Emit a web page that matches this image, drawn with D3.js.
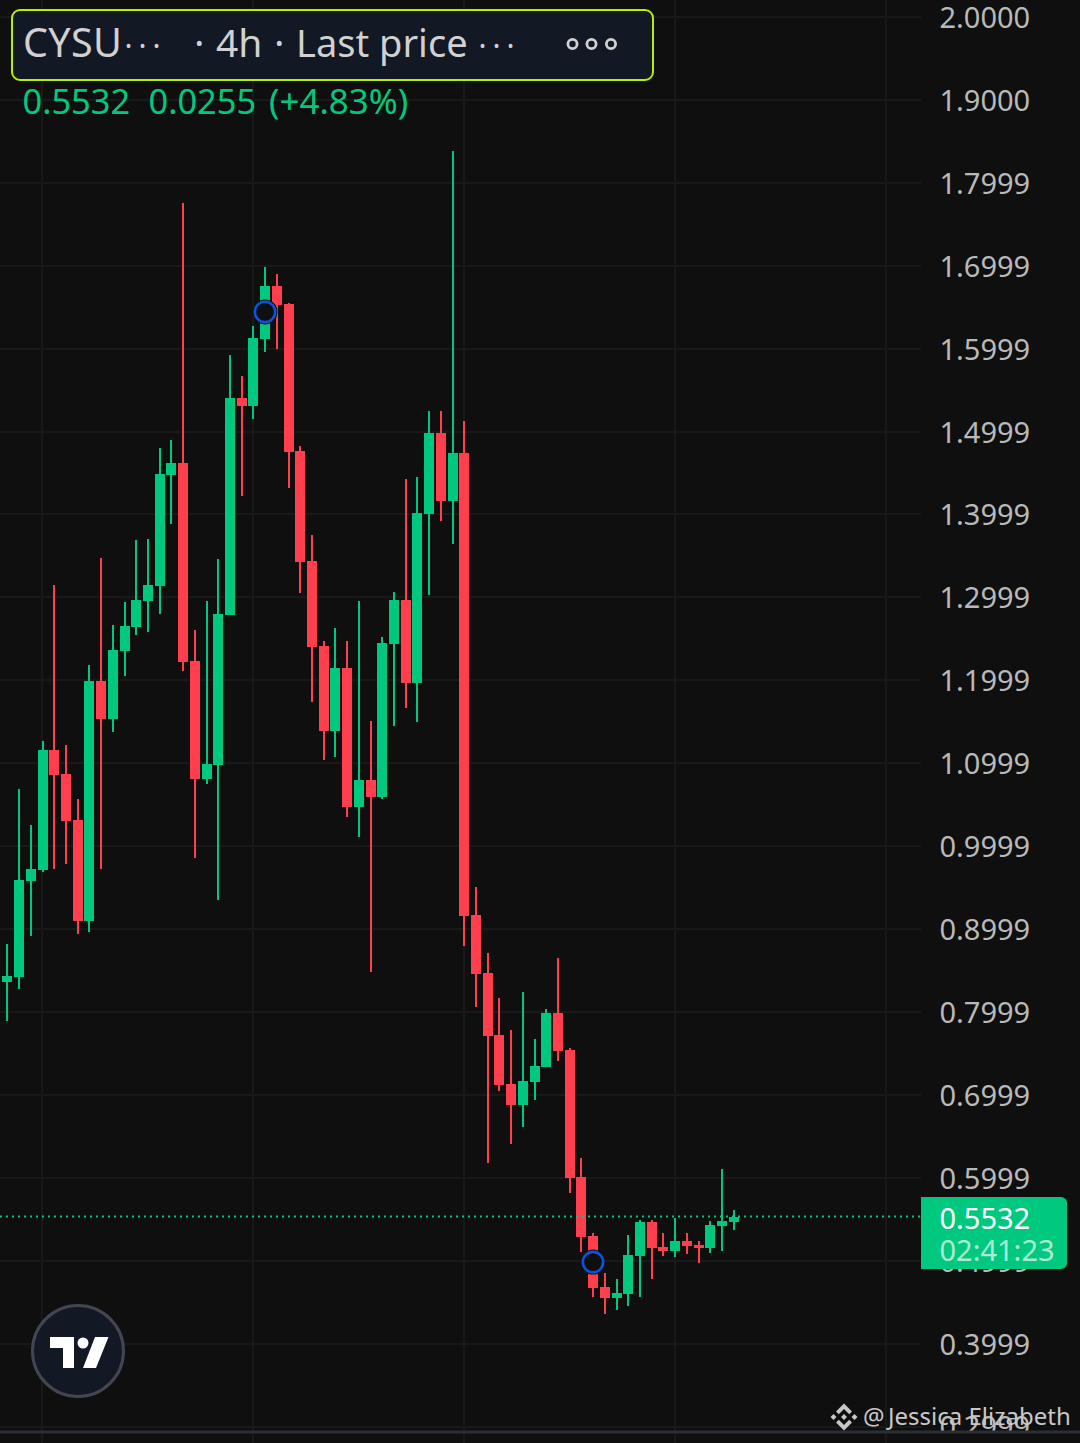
<!DOCTYPE html>
<html>
<head>
<meta charset="utf-8">
<script src="https://cdn.jsdelivr.net/npm/d3@7/dist/d3.min.js"></script>
<style>
    html, body { margin: 0; padding: 0; background: #0f0f0f; }
    svg { display: block; }
    text { font-family: "Noto Sans", sans-serif; }
</style>
</head>
<body>
<div id="chart"></div>
<script>
// values, one entry per 4h candle
var opens = [0.8361, 0.8421, 0.9579, 0.9712, 1.1159, 1.0870, 1.0315, 0.9097, 1.1992, 1.1533,
    1.2353, 1.2643, 1.2957, 1.3138, 1.4477, 1.4621, 1.2233, 1.0810, 1.0978, 1.2788,
    1.5405, 1.5309, 1.6117, 1.6756, 1.6539, 1.4766, 1.3439, 1.2414, 1.1388, 1.2148,
    1.0472, 1.0797, 1.0592, 1.2438, 1.2969, 1.1968, 1.4006, 1.4983, 1.4163, 1.4742,
    0.9169, 0.8469, 0.7721, 0.7130, 0.6877, 0.7155, 0.7335, 0.7987, 0.7540, 0.6008,
    0.5297, 0.4682, 0.4549, 0.4597, 0.5056, 0.5466, 0.5164, 0.5116, 0.5236, 0.5188,
    0.5152, 0.5417, 0.5466];
var highs = [0.8819, 1.0689, 1.0255, 1.1268, 1.3150, 1.1220, 1.0568, 1.2185, 1.3475, 1.2667,
    1.2945, 1.3692, 1.3704, 1.4802, 1.4899, 1.7758, 1.2607, 1.2957, 1.3463, 1.5924,
    1.5671, 1.6274, 1.6986, 1.6901, 1.6551, 1.4826, 1.3753, 1.2474, 1.2631, 1.2474,
    1.2957, 1.1509, 1.2522, 1.3065, 1.4428, 1.4452, 1.5249, 1.5249, 1.8385, 1.5128,
    0.9507, 0.8711, 0.8168, 0.7782, 0.8240, 0.7673, 0.8035, 0.8650, 0.7565, 0.6238,
    0.5333, 0.4851, 0.4778, 0.5309, 0.5490, 0.5490, 0.5333, 0.5514, 0.5333, 0.5236,
    0.5478, 0.6105, 0.5610];
var lows = [0.7890, 0.8276, 0.8916, 0.9688, 0.9724, 0.9784, 0.8940, 0.8964, 0.9724, 1.1376,
    1.2052, 1.2546, 1.2583, 1.2800, 1.3885, 1.2112, 0.9857, 1.0749, 0.9350, 1.2788,
    1.4223, 1.5152, 1.5960, 1.5996, 1.4320, 1.3053, 1.1738, 1.1039, 1.1075, 1.0351,
    1.0110, 0.8481, 1.0568, 1.1449, 1.1666, 1.1497, 1.3029, 1.3922, 1.3644, 0.8795,
    0.8059, 0.6177, 0.7046, 0.6407, 0.6612, 0.6937, 0.7335, 0.7408, 0.5816, 0.5104,
    0.4561, 0.4356, 0.4404, 0.4452, 0.4561, 0.4778, 0.5056, 0.5044, 0.5080, 0.4971,
    0.5092, 0.5116, 0.5369];
var closes = [0.8433, 0.9591, 0.9724, 1.1159, 1.0858, 1.0303, 0.9097, 1.1992, 1.1533, 1.2366,
    1.2655, 1.2969, 1.3150, 1.4489, 1.4621, 1.2221, 1.0810, 1.0990, 1.2800, 1.5405,
    1.5309, 1.6129, 1.6756, 1.6527, 1.4754, 1.3427, 1.2402, 1.1388, 1.2148, 1.0472,
    1.0797, 1.0592, 1.2450, 1.2969, 1.1968, 1.4018, 1.4983, 1.4163, 1.4742, 0.9157,
    0.8457, 0.7709, 0.7118, 0.6877, 0.7167, 0.7348, 0.7987, 0.7528, 0.5996, 0.5285,
    0.4670, 0.4549, 0.4609, 0.5068, 0.5466, 0.5152, 0.5116, 0.5236, 0.5176, 0.5152,
    0.5429, 0.5478, 0.5532];

var tickValues = [2.0, 1.9, 1.8, 1.7, 1.6, 1.5, 1.4, 1.3, 1.2, 1.1, 1.0, 0.9, 0.8, 0.7, 0.6, 0.5, 0.4, 0.3];
var tickLabels = ["2.0000", "1.9000", "1.7999", "1.6999", "1.5999", "1.4999", "1.3999", "1.2999", "1.1999",
    "1.0999", "0.9999", "0.8999", "0.7999", "0.6999", "0.5999", "0.4999", "0.3999", "0.2999"];
var timeGridIndex = [3, 21, 39, 57, 75]; // vertical grid falls on these candle slots
var markerIndex = [22, 50];
var markerPrice = [1.6443, 0.4983];
var lastPrice = 0.5532;

var width = 1080, height = 1443, plotRight = 921, bottomY = 1432;
var upColor = "#00c97f", downColor = "#ff3f4e", gridColor = "#191919", labelColor = "#b9b9b9";

var svg = d3.select("#chart").append("svg")
    .attr("width", width)
    .attr("height", height);

svg.append("rect").attr("width", width).attr("height", height).attr("fill", "#0f0f0f");

var x = d3.scaleLinear().domain([0, 62]).range([7.45, 733.78]);
var y = d3.scaleLinear().domain([2.0, 0.3]).range([17, 1426.5]);

svg.append("defs").append("clipPath").attr("id", "axisClip")
    .append("rect").attr("x", 921).attr("y", 0).attr("width", 159).attr("height", 1431);

// grid
var gridY = svg.append("g").attr("class", "grid")
    .call(d3.axisRight(y).tickValues(tickValues).tickSize(plotRight).tickFormat("").offset(0));
gridY.select(".domain").remove();
gridY.selectAll("line").attr("stroke", gridColor).attr("stroke-width", 2).attr("shape-rendering", "crispEdges");

var gridX = svg.append("g").attr("class", "grid")
    .attr("transform", "translate(-0.5,0)")
    .call(d3.axisBottom(x).tickValues(timeGridIndex).tickSize(height).tickFormat("").offset(0));
gridX.select(".domain").remove();
gridX.selectAll("line").attr("stroke", gridColor).attr("stroke-width", 2).attr("shape-rendering", "crispEdges");

// price axis labels
var axisG = svg.append("g")
    .attr("clip-path", "url(#axisClip)");
var priceAxis = axisG.append("g")
    .attr("transform", "translate(939.5,1.7)")
    .call(d3.axisRight(y).tickValues(tickValues).tickSize(0).tickPadding(0).offset(0)
        .tickFormat(function(d, i) { return tickLabels[i]; }));
priceAxis.select(".domain").remove();
priceAxis.selectAll("text")
    .attr("fill", labelColor)
    .style("font-family", '"Noto Sans", sans-serif')
    .style("font-size", "29px");

// candles
var candles = d3.range(opens.length);
function candleColor(i) {
    return closes[i] >= opens[i] ? upColor : downColor;
}

svg.append("g").selectAll("rect.wick").data(candles).enter().append("rect")
    .attr("class", "wick")
    .attr("x", function(i) { return Math.round(x(i)) - 1; })
    .attr("y", function(i) { return y(highs[i]); })
    .attr("width", 2)
    .attr("height", function(i) { return y(lows[i]) - y(highs[i]); })
    .attr("fill", candleColor)
    .attr("shape-rendering", "crispEdges");

svg.append("g").selectAll("rect.body").data(candles).enter().append("rect")
    .attr("class", "body")
    .attr("x", function(i) { return Math.round(x(i)) - 5; })
    .attr("y", function(i) { return y(Math.max(opens[i], closes[i])); })
    .attr("width", 10)
    .attr("height", function(i) { return Math.abs(y(opens[i]) - y(closes[i])); })
    .attr("fill", candleColor)
    .attr("shape-rendering", "crispEdges");

// last price line
svg.append("line")
    .attr("x1", 0).attr("x2", plotRight)
    .attr("y1", y(lastPrice)).attr("y2", y(lastPrice))
    .attr("stroke", upColor)
    .attr("stroke-width", 2)
    .attr("stroke-dasharray", "2,4");

// the blue round markers
var markers = svg.append("g").selectAll("g").data(markerIndex).enter().append("g")
    .attr("transform", function(d, i) { return "translate(" + Math.round(x(d)) + "," + y(markerPrice[i]) + ")"; });
markers.append("circle").attr("r", 12.5).attr("fill", "#0f0f0f");
markers.append("circle").attr("r", 10.2).attr("fill", "none").attr("stroke", "#0b52de").attr("stroke-width", 2.6);

// last price tag
svg.append("path")
    .attr("d", "M921,1197H1061a6,6 0 0 1 6,6V1263a6,6 0 0 1 -6,6H921Z")
    .attr("fill", upColor);
svg.append("text").attr("x", 939.5).attr("y", 1229).attr("fill", "#ffffff").attr("font-size", 29)
    .text(d3.format(".4f")(lastPrice));
svg.append("text").attr("x", 939.5).attr("y", 1260.5).attr("fill", "#ffffff").attr("fill-opacity", 0.68).attr("font-size", 29)
    .text("02:41:23");

// header box
svg.append("rect")
    .attr("x", 12).attr("y", 10).attr("width", 641).attr("height", 70).attr("rx", 8)
    .attr("fill", "#131825")
    .attr("stroke", "#b4f000")
    .attr("stroke-width", 2);

var headerParts = [
    {t: "CYSU", x: 23, size: 39.5, ls: 0.3}, {t: "···", x: 124.5, size: 30, ls: 6}, {t: "·", x: 194, size: 39, ls: 0},
    {t: "4h", x: 216, size: 39, ls: 0}, {t: "·", x: 274, size: 39, ls: 0},
    {t: "Last price", x: 296, size: 38, ls: 0}, {t: "···", x: 478.5, size: 30, ls: 6}
];
svg.append("g").selectAll("text").data(headerParts).enter().append("text")
    .attr("x", function(d) { return d.x; })
    .attr("y", 57)
    .attr("fill", "#d1d1d1")
    .attr("font-size", function(d) { return d.size; })
    .attr("letter-spacing", function(d) { return d.ls; })
    .text(function(d) { return d.t; });

svg.append("g").selectAll("circle").data([572.5, 591.5, 611]).enter().append("circle")
    .attr("cx", function(d) { return d; })
    .attr("cy", 44)
    .attr("r", 4.6)
    .attr("fill", "none")
    .attr("stroke", "#d1d1d1")
    .attr("stroke-width", 2.8);

// price row under the header
var priceParts = [{t: "0.5532", x: 22.5, size: 34.4}, {t: "0.0255", x: 148.5, size: 34.4}, {t: "(+4.83%)", x: 269, size: 34.9}];
svg.append("g").selectAll("text").data(priceParts).enter().append("text")
    .attr("x", function(d) { return d.x; })
    .attr("y", 114)
    .attr("fill", upColor)
    .attr("font-size", function(d) { return d.size; })
    .text(function(d) { return d.t; });

// bottom rule
svg.append("rect").attr("x", 0).attr("y", bottomY - 1.5).attr("width", width).attr("height", 3).attr("fill", "#2a2e35");

// tradingview badge
var badge = svg.append("g").attr("transform", "translate(78,1351)");
badge.append("circle").attr("r", 45.5).attr("fill", "#131825").attr("stroke", "#434651").attr("stroke-width", 3);
badge.append("path").attr("fill", "#ffffff").attr("d", "M-28,-14H-4V17H-15V-3H-28Z");
badge.append("circle").attr("cx", 5).attr("cy", -8).attr("r", 5.5).attr("fill", "#ffffff");
badge.append("path").attr("fill", "#ffffff").attr("d", "M17,-14H30.5L18,17H5Z");

// watermark
var mark = svg.append("g").attr("transform", "translate(844,1417)").attr("fill", "#c8c8c8");
mark.append("path").attr("d", "M0,-13.5L8,-5.5L5.2,-2.7L0,-7.9L-5.2,-2.7L-8,-5.5Z M0,13.5L8,5.5L5.2,2.7L0,7.9L-5.2,2.7L-8,5.5Z");
mark.append("path").attr("d", "M-13.5,0L-10.5,-3L-7.5,0L-10.5,3Z M13.5,0L10.5,-3L7.5,0L10.5,3Z M0,-3L3,0L0,3L-3,0Z");
var markText = svg.append("text").attr("x", 863).attr("y", 1425).attr("fill", "#c8c8c8").attr("font-size", 24);
markText.append("tspan").text("@");
markText.append("tspan").attr("x", 888).text("Jessica Elizabeth");
</script>
</body>
</html>
